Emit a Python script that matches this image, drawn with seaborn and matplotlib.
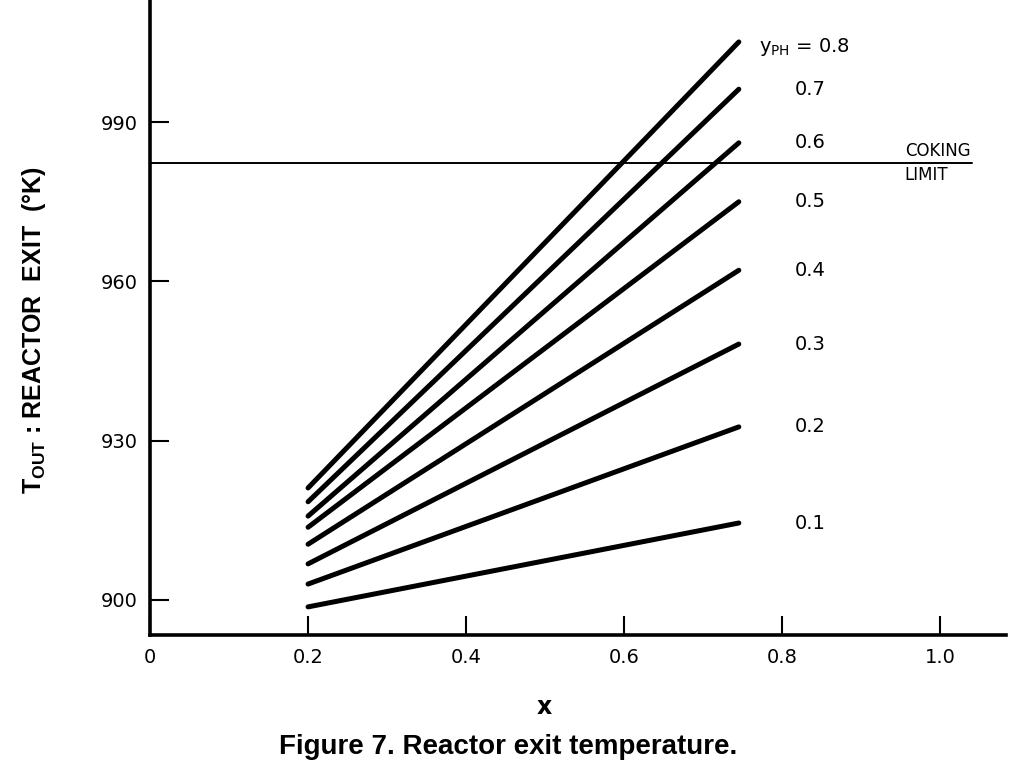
#!/usr/bin/env python3

import pandas as pd
import seaborn as sns
import matplotlib as mpl
import matplotlib.pyplot as plt

sns.set_theme(style="white")
mpl.rcParams["font.family"] = ["DejaVu Sans"]
mpl.rcParams["figure.figsize"] = (10.1, 7.75)
mpl.rcParams["figure.dpi"] = 100
for k in ["text.color", "axes.labelcolor", "xtick.color", "ytick.color"]:
    mpl.rcParams[k] = "black"

# mole fraction y_PH, one line each
yph = [0.1, 0.2, 0.3, 0.4, 0.5, 0.6, 0.7, 0.8]
x_ends = [0.2, 0.745]
t_start = [898.7, 903.0, 906.8, 910.5, 913.7, 915.8, 918.5, 921.1]
t_end = [914.5, 932.6, 948.2, 962.1, 975.0, 986.1, 996.2, 1005.1]
coking_limit = 982.3

xticks = [0, 0.2, 0.4, 0.6, 0.8, 1.0]
xticklabels = ["0", "0.2", "0.4", "0.6", "0.8", "1.0"]
yticks = [900, 930, 960, 990]

data = []
for y, t0, t1 in zip(yph, t_start, t_end):
    data.append({"yph": y, "x": x_ends[0], "T": t0})
    data.append({"yph": y, "x": x_ends[1], "T": t1})
df = pd.DataFrame(data)

fig = plt.figure()
ax = fig.add_axes([0.1485, 0.1806, 0.8475, 0.8194])

sns.lineplot(
    data=df, x="x", y="T", hue="yph", palette=["black"] * len(yph),
    linewidth=3.6, legend=False, ax=ax, solid_capstyle="round",
)

ax.plot([0, 1.04], [coking_limit, coking_limit], color="black", lw=1.4)
ax.text(0.955, coking_limit + 0.6, "COKING", fontsize=12, ha="left", va="bottom")
ax.text(0.955, coking_limit - 0.6, "LIMIT", fontsize=12, ha="left", va="top")

# curve labels
for y, t1 in zip(yph, t_end):
    if y == 0.8:
        ax.text(0.770, t1 - 1.0, r"y$_{\mathregular{PH}}$ = 0.8", fontsize=14,
                ha="left", va="center")
    else:
        ax.text(0.835, t1, "{:.1f}".format(y), fontsize=14, ha="center", va="center")

ax.set_xlim(0, 1.083)
ax.set_ylim(893.4, 1013)
ax.set_xticks(xticks)
ax.set_xticklabels(xticklabels)
ax.set_yticks(yticks)
ax.tick_params(direction="in", length=14, width=1.5, labelsize=14, pad=9,
               left=True, bottom=True, color="black")

sns.despine(ax=ax)
for s in ["left", "bottom"]:
    ax.spines[s].set_linewidth(2.6)
    ax.spines[s].set_color("black")

ax.set_xlabel("x", fontsize=17, fontweight="bold")
ax.xaxis.set_label_coords(0.461, -0.094)
ax.set_ylabel("T$_{\\mathregular{OUT}}$ : REACTOR  EXIT  (°K)", fontsize=18,
              fontweight="bold", family=["Liberation Sans", "DejaVu Sans"])
ax.yaxis.set_label_coords(-0.119, 0.48)

fig.text(0.503, 0.036, "Figure 7. Reactor exit temperature.", fontsize=20,
         fontweight="bold", ha="center", va="center",
         family=["Liberation Sans Narrow", "Liberation Sans"])

plt.savefig("out.png", dpi=100)
